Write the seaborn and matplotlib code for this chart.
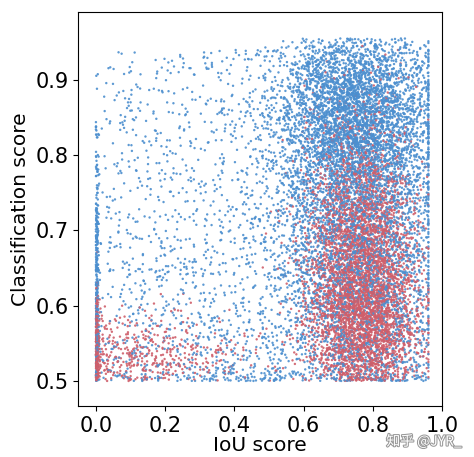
import numpy as np
import pandas as pd
import matplotlib
matplotlib.use("Agg")
import matplotlib.pyplot as plt
import matplotlib.patheffects as pe
import seaborn as sns

# Cloud shapes (the original has ~15k dots,
# too many to read individually): (label, count, x_mean, x_sd, y_mean, y_sd)
blue_groups = [
    ("bg", 2600, None, None, None, None),       # sparse uniform background
    ("top", 3400, 0.75, 0.11, 0.86, 0.06),
    ("mid", 3000, 0.74, 0.12, 0.70, 0.11),
    ("x0", 350, 0.0, 0.004, 0.62, 0.10),
]
red_groups = [
    ("low", 3600, 0.77, 0.08, 0.58, 0.08),
    ("mid", 1800, 0.76, 0.08, 0.70, 0.09),
    ("left", 500, 0.15, 0.15, 0.53, 0.03),
    ("x0", 250, 0.0, 0.004, 0.54, 0.04),
]
class_names = ["neg", "pos"]
palette = {"neg": "#4c8fcf", "pos": "#cf5f6b"}

rng = np.random.default_rng(3)


def build(groups, name):
    rows = []
    for label, n, mx, sx, my, sy in groups:
        if mx is None:
            x = rng.uniform(0, 0.95, n) ** 0.8
            y = 0.5 + rng.uniform(0, 1, n) ** 1.4 * 0.44
        else:
            x = rng.normal(mx, sx, n)
            y = rng.normal(my, sy, n)
        x = np.clip(np.abs(x), 0, 0.96)
        keep = (y >= 0.5) & (y <= 0.955)
        rows.append(pd.DataFrame({"iou": x[keep], "cls": y[keep], "kind": name}))
    return pd.concat(rows)


df = pd.concat([build(blue_groups, "neg"), build(red_groups, "pos")])
df = df.sample(frac=1, random_state=1)

fig, ax = plt.subplots(figsize=(4.74, 4.57), dpi=100)
fig.subplots_adjust(left=0.165, right=0.933, bottom=0.112, top=0.974)
sns.scatterplot(data=df, x="iou", y="cls", hue="kind", palette=palette,
                s=3, linewidth=0, alpha=0.9, legend=False, ax=ax)
ax.set_xlim(-0.051, 0.99)
ax.set_ylim(0.467, 0.99)
ax.set_xticks([0.0, 0.2, 0.4, 0.6, 0.8, 1.0])
ax.set_yticks([0.5, 0.6, 0.7, 0.8, 0.9])
ax.tick_params(labelsize=15)
ax.set_xlabel("IoU score", fontsize=14.5, labelpad=0)
ax.set_ylabel("Classification score", fontsize=14.5)
fig.text(0.815, 0.025, "知乎 @JYR_", color="white", fontsize=10,
         family=["Noto Sans CJK SC", "DejaVu Sans"],
         path_effects=[pe.withStroke(linewidth=1.5, foreground="#999999")])
fig.savefig("out.png")
